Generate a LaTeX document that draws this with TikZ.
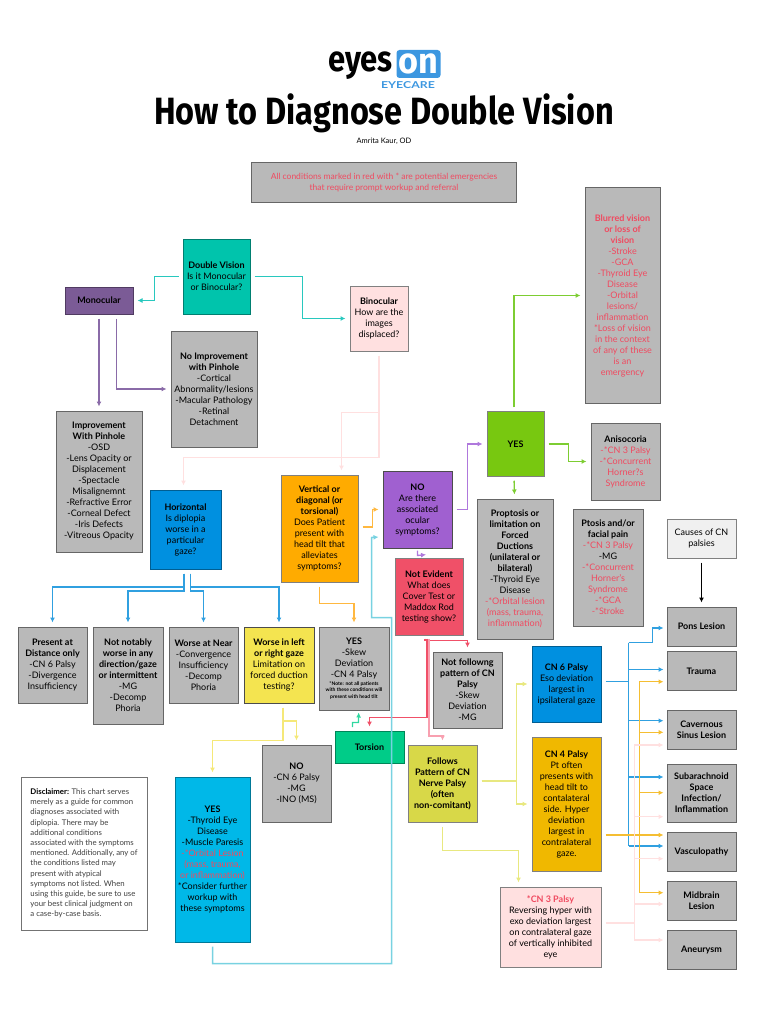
\documentclass[tikz,border=0pt]{standalone}
\usepackage{fontspec}
\usepackage{graphicx}
\setmainfont{Lato}
\newfontfamily\titlefont{Fira Sans}
\usepackage{tikz}
\usetikzlibrary{arrows.meta}
\usetikzlibrary{calc}

\definecolor{alert_red}{HTML}{F04A60}
\definecolor{grey_fill}{HTML}{B9B9B9}
\definecolor{logo_blue}{HTML}{3C97E0}
\definecolor{teal_fill}{HTML}{00C4AC}
\definecolor{purple_fill}{HTML}{7B5B96}
\definecolor{pink_fill}{HTML}{FFE0E0}
\definecolor{blue_fill}{HTML}{0090E0}
\definecolor{orange_fill}{HTML}{FFAB00}
\definecolor{violet_fill}{HTML}{A060D0}
\definecolor{green_fill}{HTML}{78C810}
\definecolor{coral_fill}{HTML}{F05068}
\definecolor{pale_fill}{HTML}{F0F0F0}
\definecolor{gold_fill}{HTML}{F0B800}
\definecolor{olive_fill}{HTML}{D8D848}
\definecolor{mint_fill}{HTML}{00CC88}
\definecolor{lemon_fill}{HTML}{F4E450}
\definecolor{sky_fill}{HTML}{00B8E8}
\definecolor{teal_edge}{HTML}{28C8BE}
\definecolor{purple_edge}{HTML}{8A6BA8}
\definecolor{orange_edge}{HTML}{FFB840}
\definecolor{violet_edge}{HTML}{AF78DC}
\definecolor{green_edge}{HTML}{7DCD32}
\definecolor{blue_edge}{HTML}{30A0E0}
\definecolor{lemon_edge}{HTML}{F5E878}
\definecolor{rose_edge}{HTML}{F8A0B0}
\definecolor{mint_edge}{HTML}{30D8A0}
\definecolor{cyan_edge}{HTML}{78D2E1}
\definecolor{olive_edge}{HTML}{E8E880}
\definecolor{gold_edge}{HTML}{F5BE32}
\newcommand{\redtxt}[1]{{\color{alert_red}#1}}

\begin{document}
\begin{tikzpicture}[x=1pt, y=-1pt,
        box_size/.style 2 args={minimum width=#1pt,minimum height=#2pt},
        node_style/.style={draw=#1!65!black,fill=#1,line width=1pt,inner sep=0pt,align=center,font=\fontsize{9}{11}\selectfont},
        grey_style/.style={node_style=grey_fill,draw=black!60},
        edge_style/.style={draw=#1,line width=1.3pt,shorten >=4pt,shorten <=4pt,-{Latex[length=5pt,width=5pt]}},
        branch_style/.style={draw=#1,line width=1.3pt,shorten >=3pt,-{Latex[length=5pt,width=5pt]}},
        bus_style/.style={draw=#1,line width=1.3pt}]

        \useasboundingbox (0,0) rectangle (768,1024);

        \node [font=\fontsize{36}{36}\selectfont\titlefont\bfseries,inner sep=0pt,anchor=east](n_eyes) at (393,66) {\scalebox{0.86}[1]{eyes}};

        \node [fill=logo_blue,rounded corners=3pt,text=white,inner sep=0pt,box_size={44}{28},font=\fontsize{36}{36}\selectfont\titlefont\bfseries](n_on) at (418.5,64) {\scalebox{0.95}[1]{on}};

        \node [text=logo_blue,inner sep=0pt,font=\fontsize{9.5}{10}\selectfont\bfseries](n_eyecare) at (408,85.5) {\scalebox{1.3}[1]{EYECARE}};

        \node [inner sep=0pt,font=\fontsize{38}{38}\selectfont\titlefont\bfseries](n_title) at (384,113) {\scalebox{0.855}[1]{How to Diagnose Double Vision}};

        \node [inner sep=0pt,font=\fontsize{7.5}{9}\selectfont](n_author) at (384,141) {Amrita Kaur, OD};

        \node [grey_style,box_size={265.5}{40},text=alert_red,font=\fontsize{8.5}{11}\selectfont](n_note) at (384,183) {All conditions marked in red with * are potential emergencies\\that require prompt workup and referral};

        \node [node_style=white,draw=black!55,box_size={126}{153},align=left,text=black!75,font=\fontsize{7.8}{10.2}\selectfont](n_disclaimer) at (84,853.5) {\textbf{\color{black}Disclaimer:} This chart serves\\merely as a guide for common\\diagnoses associated with\\diplopia. There may be\\additional conditions\\associated with the symptoms\\mentioned. Additionally, any of\\the conditions listed may\\present with atypical\\symptoms not listed. When\\using this guide, be sure to use\\your best clinical judgment on\\a case-by-case basis.};

        \node [node_style=teal_fill,box_size={67}{75}](n_double) at (216.5,276.5) {\textbf{Double Vision}\\Is it Monocular\\or Binocular?};

        \node [node_style=purple_fill,box_size={68}{27}](n_mono) at (99,300.5) {\textbf{Monocular}};

        \node [node_style=pink_fill,draw=black!50,box_size={58}{65}](n_bino) at (379,318.5) {\textbf{Binocular}\\How are the\\images\\displaced?};

        \node [grey_style,box_size={86}{116}](n_noimp) at (214,389) {\textbf{No Improvement}\\\textbf{with Pinhole}\\-Cortical\\Abnormality/lesions\\-Macular Pathology\\-Retinal\\Detachment};

        \node [grey_style,box_size={86}{141}](n_imp) at (99,481.5) {\textbf{Improvement}\\\textbf{With Pinhole}\\-OSD\\-Lens Opacity or\\Displacement\\-Spectacle\\Misalignemnt\\-Refractive Error\\-Corneal Defect\\-Iris Defects\\-Vitreous Opacity};

        \node [node_style=blue_fill,box_size={71}{79}](n_horiz) at (185.5,529.5) {\textbf{Horizontal}\\Is diplopia\\worse in a\\particular\\gaze?};

        \node [node_style=orange_fill,draw=black!50,box_size={77}{107}](n_vert) at (319.5,528.5) {\textbf{Vertical or}\\\textbf{diagonal (or}\\\textbf{torsional)}\\Does Patient\\present with\\head tilt that\\alleviates\\symptoms?};

        \node [node_style=violet_fill,draw=black!70,box_size={69}{77}](n_no) at (417.5,509.5) {\textbf{NO}\\Are there\\associated\\ocular\\symptoms?};

        \node [node_style=green_fill,draw=black!50,box_size={57}{64.5}](n_yes) at (515.5,444) {\textbf{YES}};

        \node [grey_style,box_size={76}{140}](n_proptosis) at (515,569) {\textbf{Proptosis or}\\\textbf{limitation on}\\\textbf{Forced}\\\textbf{Ductions}\\\textbf{(unilateral or}\\\textbf{bilateral)}\\-Thyroid Eye\\Disease\\\redtxt{-*Orbital lesion}\\\redtxt{(mass, trauma,}\\\redtxt{inflammation)}};

        \node [node_style=coral_fill,draw=black!50,box_size={68}{77}](n_evident) at (429,596.5) {\textbf{Not Evident}\\What does\\Cover Test or\\Maddox Rod\\testing show?};

        \node [grey_style,box_size={75}{215},text=alert_red](n_blurred) at (622.5,295.5) {\textbf{Blurred vision}\\\textbf{or loss of}\\\textbf{vision}\\-Stroke\\-GCA\\-Thyroid Eye\\Disease\\-Orbital\\lesions/\\inflammation\\*Loss of vision\\in the context\\of any of these\\is an\\emergency};

        \node [grey_style,box_size={69}{77}](n_aniso) at (625.5,461.5) {\textbf{Anisocoria}\\\redtxt{-*CN 3 Palsy}\\\redtxt{-*Concurrent}\\\redtxt{Horner?s}\\\redtxt{Syndrome}};

        \node [grey_style,box_size={70}{117}](n_ptosis) at (608,567.5) {\textbf{Ptosis and/or}\\\textbf{facial pain}\\\redtxt{-*CN 3 Palsy}\\-MG\\\redtxt{-*Concurrent}\\\redtxt{Horner's}\\\redtxt{Syndrome}\\\redtxt{-*GCA}\\\redtxt{-*Stroke}};

        \node [node_style=pale_fill,draw=black!50,box_size={69}{39}](n_causes) at (701.5,538.5) {Causes of CN\\palsies};

        \node [grey_style,box_size={69}{39}](n_pons) at (701.5,626.5) {\textbf{Pons Lesion}};

        \node [grey_style,box_size={69}{39}](n_trauma) at (701.5,671) {\textbf{Trauma}};

        \node [grey_style,box_size={69}{39}](n_cavernous) at (701.5,730) {\textbf{Cavernous}\\\textbf{Sinus Lesion}};

        \node [grey_style,box_size={69}{58}](n_subarach) at (701.5,793) {\textbf{Subarachnoid}\\\textbf{Space}\\\textbf{Infection/}\\\textbf{Inflammation}};

        \node [grey_style,box_size={69}{39}](n_vasc) at (701.5,851.5) {\textbf{Vasculopathy}};

        \node [grey_style,box_size={69}{39}](n_midbrain) at (701.5,900.5) {\textbf{Midbrain}\\\textbf{Lesion}};

        \node [grey_style,box_size={69}{39}](n_aneurysm) at (701.5,949.5) {\textbf{Aneurysm}};

        \node [node_style=blue_fill,box_size={69}{76}](n_cn6) at (566.5,684) {\textbf{CN 6 Palsy}\\Eso deviation\\largest in\\ipsilateral gaze};

        \node [node_style=gold_fill,draw=black!50,box_size={69}{134}](n_cn4) at (566.5,804) {\textbf{CN 4 Palsy}\\Pt often\\presents with\\head tilt to\\contalateral\\side. Hyper\\deviation\\largest in\\contralateral\\gaze.};

        \node [node_style=pink_fill,draw=black!50,box_size={101}{80}](n_cn3) at (550.5,927) {\redtxt{\textbf{*CN 3 Palsy}}\\Reversing hyper with\\exo deviation largest\\on contralateral gaze\\of vertically inhibited\\eye};

        \node [node_style=olive_fill,draw=black!50,box_size={69}{77}](n_follows) at (442.5,783.5) {\textbf{Follows}\\\textbf{Pattern of CN}\\\textbf{Nerve Palsy}\\\textbf{(often}\\\textbf{non-comitant)}};

        \node [grey_style,box_size={69}{76}](n_notfollow) at (467.5,690) {\textbf{Not followng}\\\textbf{pattern of CN}\\\textbf{Palsy}\\-Skew\\Deviation\\-MG};

        \node [node_style=mint_fill,box_size={69}{32}](n_torsion) at (369.5,747) {\textbf{Torsion}};

        \node [grey_style,box_size={69}{77}](n_nogrey) at (296.5,783.5) {\textbf{NO}\\-CN 6 Palsy\\-MG\\-INO (MS)};

        \node [grey_style,box_size={70}{83}](n_yesgrey) at (354,668.5) {\textbf{YES}\\-Skew\\Deviation\\-CN 4 Palsy\\[-3pt]{\fontsize{5}{6.5}\selectfont\textbf{*Note: not all patients}}\\[-4.5pt]{\fontsize{5}{6.5}\selectfont\textbf{with these conditions will}}\\[-4.5pt]{\fontsize{5}{6.5}\selectfont\textbf{present with head tilt}}};

        \node [node_style=lemon_fill,draw=black!70,box_size={70}{76}](n_worse) at (279,665) {\textbf{Worse in left}\\\textbf{or right gaze}\\Limitation on\\forced duction\\testing?};

        \node [grey_style,box_size={69}{76}](n_near) at (203.5,665) {\textbf{Worse at Near}\\-Convergence\\Insufficiency\\-Decomp\\Phoria};

        \node [grey_style,box_size={70}{97}](n_notnot) at (128,675.5) {\textbf{Not notably}\\\textbf{worse in any}\\\textbf{direction/gaze}\\\textbf{or intermittent}\\-MG\\-Decomp\\Phoria};

        \node [grey_style,box_size={69}{76}](n_present) at (52.5,665) {\textbf{Present at}\\\textbf{Distance only}\\-CN 6 Palsy\\-Divergence\\Insufficiency};

        \node [node_style=sky_fill,box_size={75}{165}](n_yesblue) at (212.5,859.5) {\textbf{YES}\\-Thyroid Eye\\Disease\\-Muscle Paresis\\\redtxt{-*Orbital Lesion}\\\redtxt{(mass, trauma,}\\\redtxt{or inflammation)}\\*Consider further\\workup with\\these symptoms};

        \coordinate (c_blue) at (628.5,681.7);

        \coordinate (c_orange) at (639.3,835);

        \coordinate (c_pink) at (634.3,923);

        \draw [edge_style=teal_edge] (n_double.west) -- ++(-28,0) |- (n_mono.east);

        \draw [edge_style=teal_edge] (n_double.east) -- ++(52,0) |- (n_bino.west);

        \draw [edge_style=purple_edge] (n_mono.south) -- (n_imp.north);

        \draw [edge_style=purple_edge] ([xshift=17.5pt]n_mono.south) |- (n_noimp.west);

        \draw [edge_style=pink_fill] (n_bino.south) -- ++(0,61) -| ([xshift=22pt]n_vert.north);

        \draw [edge_style=pink_fill] (n_bino.south) -- ++(0,106) -| ([xshift=-2pt]n_horiz.north);

        \draw [edge_style=orange_edge] ([yshift=1.5pt]n_vert.east) -- ++(14,0) |- (n_no.west);

        \draw [edge_style=orange_edge] (n_vert.south) -- ++(0,21) -| (n_yesgrey.north);

        \draw [edge_style=violet_edge] (n_no.east) -- ++(15,0) |- (n_yes.west);

        \draw [edge_style=violet_edge,shorten <=2pt,shorten >=1pt] (n_no.south) -- ++(0,7) -- ([xshift=-2pt,yshift=3pt]n_evident.north);

        \draw [edge_style=green_edge] ([xshift=-1.5pt]n_yes.north) |- (n_blurred.west);

        \draw [edge_style=green_edge] (n_yes.east) -- ++(24,0) |- (n_aniso.west);

        \draw [edge_style=green_edge] ([xshift=-1.5pt]n_yes.south) -- ([xshift=-.5pt]n_proptosis.north);

        \draw [edge_style=blue_edge] ([xshift=-1.5pt]n_horiz.south) -- ++(0,17.5) -| (n_present.north);

        \draw [edge_style=blue_edge] ([xshift=-1.5pt]n_horiz.south) -- ++(0,21.5) -| (n_notnot.north);

        \draw [edge_style=blue_edge] ([xshift=5pt]n_horiz.south) -- ++(0,21.5) -| (n_near.north);

        \draw [edge_style=blue_edge] ([xshift=5pt]n_horiz.south) -- ++(0,17.5) -| (n_worse.north);

        \draw [edge_style=lemon_edge] ([xshift=4pt]n_worse.south) -- ++(0,17.5) -| (n_nogrey.north);

        \draw [edge_style=lemon_edge] ([xshift=4pt]n_worse.south) -- ++(0,37) -| (n_yesblue.north);

        \draw [edge_style=coral_fill,shorten <=3pt] ([xshift=-4pt]n_evident.south) -- ++(0,5) -| (n_notfollow.north);

        \draw [edge_style=rose_edge,line width=2pt,shorten <=3pt] (n_evident.south) -- ++(0,100) -| (n_follows.north);

        \draw [edge_style=coral_fill,shorten <=3pt] ([xshift=-2pt]n_evident.south) -- ++(0,82) -| (n_torsion.north);

        \draw [edge_style=mint_edge,shorten <=3.5pt,shorten >=2pt] ([xshift=-17pt]n_torsion.north) -- ++(0,-8) -- ++(6,0) -- ([xshift=4.7pt]n_yesgrey.south);

        \draw [edge_style=cyan_edge,line width=1.5pt] (n_yesblue.south) -- ++(0,21) -- ++(179,0) -- ++(0,-346) -- ++(-20,0) -- ++(0,-80) -- ([yshift=-27.2pt]n_no.west);

        \draw [edge_style=olive_edge] ([yshift=2.5pt]n_follows.east) -- ++(39,0) |- (n_cn6.west);

        \draw [edge_style=olive_edge] ([yshift=2.5pt]n_follows.east) -- ++(39,0) |- (n_cn4.west);

        \draw [edge_style=olive_edge] (n_follows.south) -- ++(0,28) -| ([xshift=-32pt]n_cn3.north);

        \draw [bus_style=blue_edge,shorten <=4pt] ([yshift=2.3pt]n_cn6.east) -- (c_blue);

        \draw [bus_style=blue_edge] (628.5,642.7) -- (628.5,846);

        \draw [branch_style=blue_edge] (628.5,642.7) -- (652.7,642.7) |- (n_pons.west |- 0,628);

        \foreach \target/\ypos in {n_trauma/669.5,n_cavernous/720.7,n_subarach/777,n_vasc/846}
            \draw [branch_style=blue_edge] (628.5,\ypos) -- (\target.west |- 0,\ypos);

        \draw [bus_style=gold_edge] (639.3,681.7) -- (639.3,892.7);

        \draw [edge_style=gold_edge,shorten >=3pt] ([yshift=-31pt]n_cn4.east) -- (n_vasc.west |- c_orange);

        \foreach \target/\ypos in {n_trauma/681.7,n_cavernous/732.3,n_subarach/792.7,n_midbrain/892.7}
            \draw [branch_style=gold_edge] (639.3,\ypos) -- (\target.west |- 0,\ypos);

        \draw [bus_style=pink_fill,shorten <=4pt] ([yshift=4pt]n_cn3.east) -- (c_pink);

        \draw [bus_style=pink_fill] (634.3,745) -- (634.3,940);

        \foreach \target/\ypos in {n_cavernous/745,n_subarach/816.7,n_vasc/858.7,n_midbrain/904,n_aneurysm/940}
            \draw [branch_style=pink_fill] (634.3,\ypos) -- (\target.west |- 0,\ypos);

        \draw [edge_style=black] (n_causes.south) -- (n_pons.north);

        \end{tikzpicture}
\end{document}
